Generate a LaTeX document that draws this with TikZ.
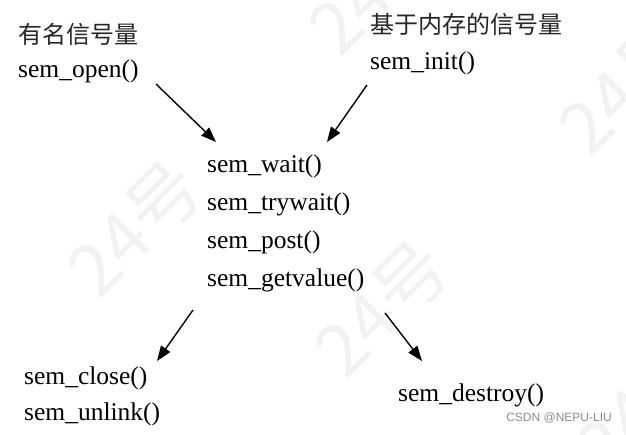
\documentclass[tikz,border=0pt]{standalone}
\usepackage{fontspec}
\setmainfont{Liberation Serif}
\newfontfamily\cjk{Noto Sans CJK SC}
\newfontfamily\wmfont{Liberation Sans}
\usetikzlibrary{arrows.meta}
\begin{document}
\begin{tikzpicture}[x=1pt,y=-1pt,
  lbl/.style={anchor=base west,inner sep=0pt,font=\fontsize{25.5}{30}\selectfont},
  cn/.style={anchor=west,inner sep=0pt,font=\cjk\fontsize{24}{28}\selectfont,text=black!85},
  arr/.style={line width=1.4pt,-{Triangle[length=15pt,width=11pt]}},
  wm/.style={inner sep=0pt,text=black!5,font=\cjk\fontsize{72}{72}\selectfont,rotate=45}]
\useasboundingbox (0,0) rectangle (626,434);
\fill[white] (0,0) rectangle (626,434);
% watermark
\node[wm] (w1) at (135,228) {24号};
\node[wm] (w2) at (382,308) {24号};
\node[wm] (w3) at (376,-14) {24号};
\node[wm] (w4) at (626,86) {24号};
\node[wm] (w5) at (644,405) {24号};
% labels
\node[cn] (named) at (18,34) {有名信号量};
\node[lbl] (open) at (18,77) {sem\_open()};
\node[cn] (mem) at (370,24) {基于内存的信号量};
\node[lbl] (init) at (370,69) {sem\_init()};
\node[lbl] (wait) at (207,172) {sem\_wait()};
\node[lbl] (trywait) at (207,210) {sem\_trywait()};
\node[lbl] (post) at (207,248) {sem\_post()};
\node[lbl] (getv) at (207,286) {sem\_getvalue()};
\node[lbl] (close) at (24,384) {sem\_close()};
\node[lbl] (unlink) at (24,420) {sem\_unlink()};
\node[lbl] (destroy) at (398,401) {sem\_destroy()};
\node[anchor=base east,inner sep=0pt,text=black!45,font=\wmfont\fontsize{12}{14}\selectfont] (csdn) at (612,421) {CSDN @NEPU-LIU};
% arrow ends
\coordinate (a1s) at (156,84);
\coordinate (a1e) at (216,142);
\coordinate (a2s) at (367,85);
\coordinate (a2e) at (327,142);
\coordinate (a3s) at (193,310);
\coordinate (a3e) at (157,361);
\coordinate (a4s) at (385,313);
\coordinate (a4e) at (422,361);
\draw[arr] (a1s) -- (a1e);
\draw[arr] (a2s) -- (a2e);
\draw[arr] (a3s) -- (a3e);
\draw[arr] (a4s) -- (a4e);
\end{tikzpicture}
\end{document}
